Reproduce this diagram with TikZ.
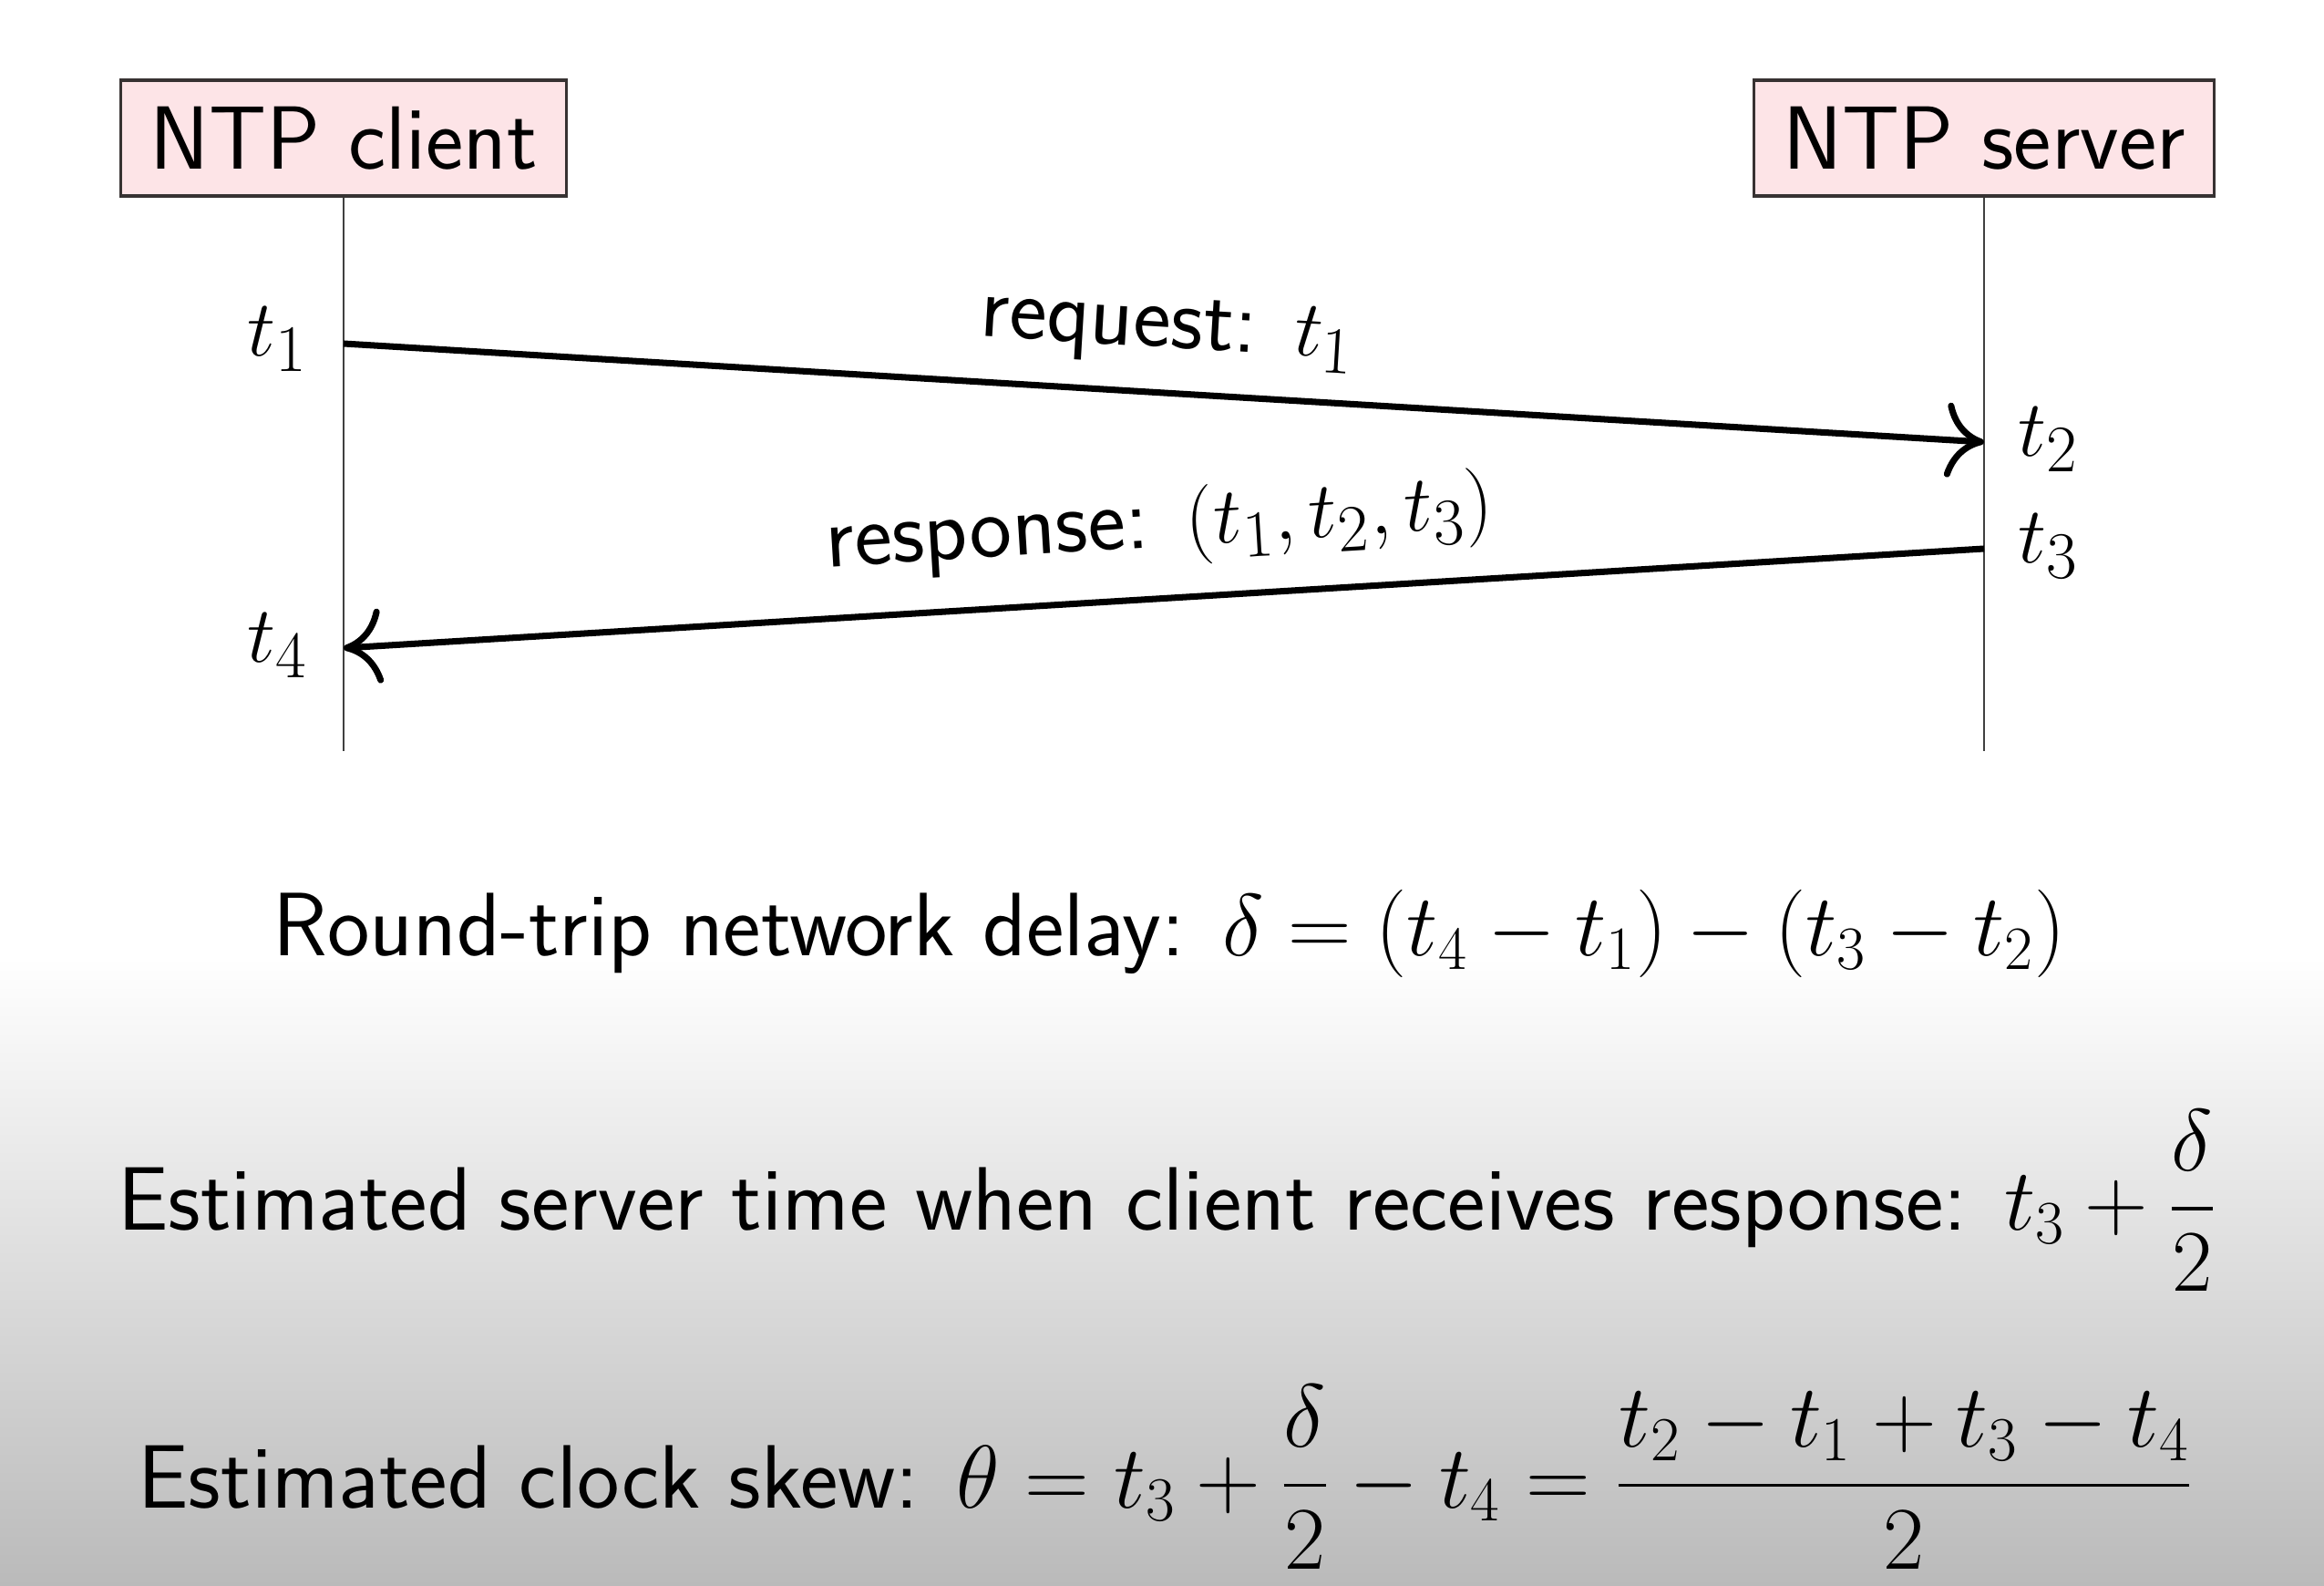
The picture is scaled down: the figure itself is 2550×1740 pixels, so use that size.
\RequirePackage{fix-cm}
\documentclass[tikz,border=0pt]{standalone}
\usepackage{amsmath}
\usepackage{fontspec}
\usetikzlibrary{arrows.meta}
\definecolor{boxpink}{RGB}{253,228,231}
\definecolor{boxline}{RGB}{55,50,50}
\definecolor{bottomgray}{RGB}{186,186,186}
\newcommand\mathsz{\fontsize{27.4}{32}\selectfont}
\newcommand\mathszb{\fontsize{27.9}{32}\selectfont}
\newcommand\labsz{\fontsize{24.88}{30}\selectfont}
\tikzset{
  actor/.style={draw=boxline, line width=0.9pt, fill=boxpink, minimum height=1.27cm, inner sep=0pt, font=\sffamily\fontsize{28}{32}\selectfont},
  lifeline/.style={draw=black!75, line width=0.7pt},
  msg/.style={line width=2pt, -{Computer Modern Rightarrow[length=0.42cm, width=0.82cm, line width=2pt]}},
  tlabel/.style={font=\labsz, inner sep=0pt},
  msglabel/.style={font=\sffamily\fontsize{28}{32}\selectfont, inner sep=0pt},
  formula/.style={font=\sffamily\fontsize{28.1}{33}\selectfont, inner sep=0pt, anchor=base}
}
\begin{document}
\begin{tikzpicture}[x=0.01cm, y=0.01cm]
\useasboundingbox (0,0) rectangle (2550,-1740);
\fill[white] (0,0) rectangle (2550,-1740);
\shade[top color=white, bottom color=bottomgray] (0,-1050) rectangle (2550,-1740);

\node[actor, minimum width=4.88cm] (client) at (377,-151.5) {NTP client};
\node[actor, minimum width=5.04cm] (server) at (2177,-151.5) {NTP server};

\coordinate (cend) at (377,-824);
\coordinate (send) at (2177,-824);
\draw[lifeline] (client.south) -- (cend);
\draw[lifeline] (server.south) -- (send);

\coordinate (c1) at (377,-377);
\coordinate (s2) at (2177,-485);
\coordinate (s3) at (2177,-602);
\coordinate (c4) at (377,-711);

\draw[msg] (c1) -- (s2);
\draw[msg] (s3) -- (c4);

\path (c1) -- (s2) node[midway, sloped, above=0.30cm, msglabel] (req) {request: {\labsz$t_1$}};
\path (c4) -- (s3) node[midway, sloped, above=0.34cm, msglabel] (resp) {response: {\labsz$(t_1, t_2, t_3)$}};

\node[tlabel, anchor=east] (lt1) at (338,-372) {$t_1$};
\node[tlabel, anchor=west] (lt2) at (2214,-482) {$t_2$};
\node[tlabel, anchor=west] (lt3) at (2214,-599) {$t_3$};
\node[tlabel, anchor=east] (lt4) at (338,-708) {$t_4$};

\node[formula] (f1) at (1283,-1049) {Round-trip network delay: {\mathsz$\delta = (t_4 - t_1) - (t_3 - t_2)$}};
\node[formula] (f2) at (1281,-1350) {Estimated server time when client receives response: {\mathsz$t_3 + \dfrac{\delta}{2}$}};
\node[formula] (f3) at (1279,-1654) {Estimated clock skew: {\mathszb$\theta = t_3 + \dfrac{\delta}{2} - t_4 = \dfrac{t_2 - t_1 + t_3 - t_4}{2}$}};
\end{tikzpicture}
\end{document}
